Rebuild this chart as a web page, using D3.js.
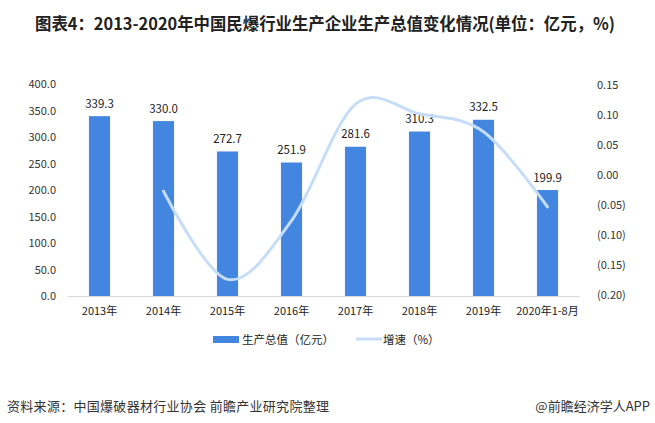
<!DOCTYPE html>
<html>
<head>
<meta charset="utf-8">
<script src="https://cdn.jsdelivr.net/npm/d3@7"></script>
<style>
  html, body { margin: 0; padding: 0; background: #fff; }
  svg { display: block; font-family: "Noto Sans CJK SC", "Noto Sans", sans-serif; }
</style>
</head>
<body>
<svg id="chart" width="655" height="423"></svg>
<script>
const YEARS = ['2013年', '2014年', '2015年', '2016年', '2017年', '2018年', '2019年', '2020年1-8月'];
const OUTPUT = [339.3, 330.0, 272.7, 251.9, 281.6, 310.3, 332.5, 199.9];
// growth rate, first year has no value
const GROWTH = [null, -0.027, -0.174, -0.076, 0.118, 0.102, 0.072, -0.053];
const LEFT_TICKS = [0, 50, 100, 150, 200, 250, 300, 350, 400];
const RIGHT_TICKS = [-0.20, -0.15, -0.10, -0.05, 0, 0.05, 0.10, 0.15];

const BAR_COLOR = '#4286e0';
const LINE_COLOR = '#c6ddf7';

const svg = d3.select('#chart');
const plotL = 67.5, plotR = 579.5, plotT = 84, plotB = 296;

const x = d3.scaleBand().domain(YEARS).range([plotL, plotR]).paddingInner(0.67).paddingOuter(0.335);
const yL = d3.scaleLinear().domain([0, 400]).range([plotB, plotT]);
const yR = d3.scaleLinear().domain([-0.20, 0.15]).range([plotB - 1, plotT + 1]);

// title
svg.append('text')
  .attr('x', 325).attr('y', 30)
  .attr('text-anchor', 'middle')
  .attr('font-size', 17).attr('font-weight', 'bold').attr('fill', '#222')
  .attr('textLength', 580).attr('lengthAdjust', 'spacingAndGlyphs')
  .text('图表4：2013-2020年中国民爆行业生产企业生产总值变化情况(单位：亿元，%)');

// left axis labels
svg.append('g').selectAll('text').data(LEFT_TICKS).enter().append('text')
  .attr('x', 56).attr('y', d => yL(d) + 4)
  .attr('text-anchor', 'end')
  .attr('font-size', 11).attr('fill', '#333')
  .text(d => d.toFixed(1));

// right axis labels
const fmtR = d => d < -1e-9 ? '(' + Math.abs(d).toFixed(2) + ')' : d.toFixed(2);
svg.append('g').selectAll('text').data(RIGHT_TICKS).enter().append('text')
  .attr('x', 597).attr('y', d => yR(d) + 4)
  .attr('text-anchor', 'start')
  .attr('font-size', 11).attr('fill', '#333')
  .text(fmtR);

// bars
svg.append('g').selectAll('rect').data(OUTPUT).enter().append('rect')
  .attr('x', (d, i) => x(YEARS[i]))
  .attr('y', d => yL(d))
  .attr('width', x.bandwidth())
  .attr('height', d => yL(0) - yL(d))
  .attr('fill', BAR_COLOR);

// bar labels
svg.append('g').selectAll('text').data(OUTPUT).enter().append('text')
  .attr('x', (d, i) => x(YEARS[i]) + x.bandwidth() / 2)
  .attr('y', d => yL(d) - 8.5)
  .attr('text-anchor', 'middle')
  .attr('font-size', 11.5).attr('fill', '#222')
  .text(d => d.toFixed(1));

// x axis line
svg.append('line')
  .attr('x1', plotL).attr('x2', plotR)
  .attr('y1', plotB + 0.5).attr('y2', plotB + 0.5)
  .attr('stroke', '#d9d9d9').attr('stroke-width', 1);

// x labels
svg.append('g').selectAll('text').data(YEARS).enter().append('text')
  .attr('x', d => x(d) + x.bandwidth() / 2)
  .attr('y', 315)
  .attr('text-anchor', 'middle')
  .attr('font-size', 11).attr('fill', '#222')
  .text(d => d);

// growth line
const pts = GROWTH.map((g, i) => ({ x: x(YEARS[i]) + x.bandwidth() / 2, g })).filter(p => p.g !== null);
const line = d3.line().x(d => d.x).y(d => yR(d.g)).curve(d3.curveCatmullRom.alpha(0));
svg.append('path')
  .datum(pts)
  .attr('d', line)
  .attr('fill', 'none')
  .attr('stroke', LINE_COLOR)
  .attr('stroke-width', 3)
  .attr('stroke-linecap', 'round');

// legend
const lg = svg.append('g');
lg.append('rect').attr('x', 213).attr('y', 336).attr('width', 26).attr('height', 7).attr('fill', BAR_COLOR);
lg.append('text').attr('x', 242).attr('y', 344).attr('font-size', 11.5).attr('fill', '#222').text('生产总值（亿元）');
lg.append('line').attr('x1', 356).attr('x2', 382).attr('y1', 339).attr('y2', 339)
  .attr('stroke', LINE_COLOR).attr('stroke-width', 3);
lg.append('text').attr('x', 383).attr('y', 344).attr('font-size', 11.5).attr('fill', '#222').text('增速（%）');

// footer
svg.append('text').attr('x', 7).attr('y', 411).attr('font-size', 13).attr('fill', '#333')
  .attr('textLength', 322).attr('lengthAdjust', 'spacing')
  .text('资料来源：中国爆破器材行业协会 前瞻产业研究院整理');
svg.append('text').attr('x', 650).attr('y', 411).attr('text-anchor', 'end').attr('font-size', 13).attr('fill', '#333')
  .text('@前瞻经济学人APP');
</script>
</body>
</html>
